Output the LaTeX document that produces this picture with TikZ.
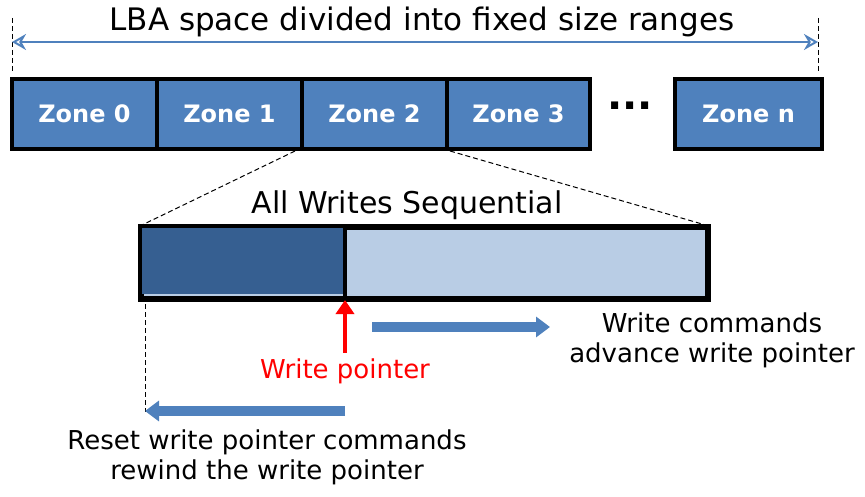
\documentclass[tikz,border=0pt]{standalone}
\usepackage{fontspec}
\setmainfont{DejaVu Sans}
\usetikzlibrary{arrows.meta}
\definecolor{zblue}{HTML}{4F81BD}
\definecolor{zdark}{HTML}{365F91}
\definecolor{zlight}{HTML}{B9CDE5}
\begin{document}
\begin{tikzpicture}[x=1pt,y=-1pt,
  zone/.style={draw=black,line width=4pt,fill=zblue,text=white,font=\fontsize{24}{26}\selectfont\bfseries,minimum height=70pt,inner sep=0pt,anchor=north west},
  dline/.style={dash pattern=on 5pt off 3pt,line width=1pt},
  big/.style={line width=10pt,draw=zblue,-{Triangle[length=14pt,width=20pt]}},
  lbl/.style={font=\fontsize{26}{30}\selectfont,align=center}]
\useasboundingbox (0,0) rectangle (865,497);
\node[lbl,font=\fontsize{31}{34}\selectfont] (title) at (422,22) {LBA space divided into fixed size ranges};
\coordinate (la) at (12,42); \coordinate (ra) at (818,42);
\draw[dline] (12,18) -- (12,72); \draw[dline] (818,18) -- (818,72);
\draw[zblue,line width=2pt,{Stealth[length=14pt,width=16pt,open]}-{Stealth[length=14pt,width=16pt,open]}] (la) -- (ra);
\node[zone,minimum width=145pt] (z0) at (10,77) {Zone 0};
\node[zone,minimum width=145pt] (z1) at (155,77) {Zone 1};
\node[zone,minimum width=145pt] (z2) at (300,77) {Zone 2};
\node[zone,minimum width=143pt] (z3) at (445,77) {Zone 3};
\node[font=\fontsize{40}{40}\selectfont\bfseries] (dots) at (630,106) {...};
\node[zone,minimum width=147pt] (zn) at (673,77) {Zone n};
\node[lbl,font=\fontsize{30}{34}\selectfont] (aws) at (407,205) {All Writes Sequential};
\node[draw=black,line width=4pt,fill=zlight,minimum width=565pt,minimum height=70pt,anchor=north west,inner sep=0pt] (bar) at (140,226) {};
\fill[zdark] (142,228) rectangle (345,294);
\draw[line width=4pt] (345,226) -- (345,296);
\draw[line width=4pt] (bar.north west) rectangle (bar.south east);
\draw[dline] (z2.south west) ++(-5,0) -- (bar.north west);
\draw[dline] (z3.south west) ++(5,0) -- (bar.north east);
\coordinate (wp) at (345,300);
\node[lbl,text=red] (wpl) at (345,371) {Write pointer};
\draw[red,line width=4pt,-{Triangle[length=14pt,width=18pt]}] (wpl.north) ++(0,-2) -- (wp);
\coordinate (fa) at (372,327); \coordinate (fb) at (550,327);
\draw[big] (fa) -- (fb);
\node[lbl] (wc) at (712,340) {Write commands\\advance write pointer};
\draw[dline] (145,296) -- (145,412);
\coordinate (ra1) at (345,411); \coordinate (ra2) at (145,411);
\draw[big] (ra1) -- (ra2);
\node[lbl] (rc) at (267,457) {Reset write pointer commands\\rewind the write pointer};
\end{tikzpicture}
\end{document}
